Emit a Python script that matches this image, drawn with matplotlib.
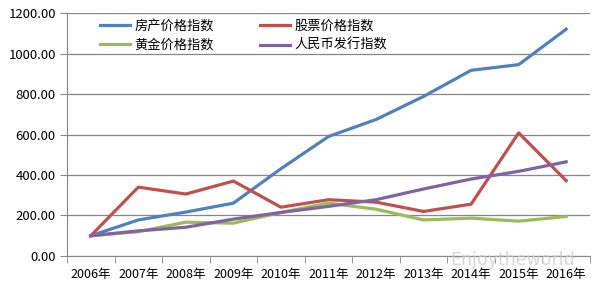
import matplotlib
matplotlib.use("Agg")
import matplotlib.pyplot as plt
from matplotlib.ticker import FixedLocator, FormatStrFormatter

plt.rcParams['font.family'] = ['Noto Sans CJK SC', 'DejaVu Sans']

years = ['2006年', '2007年', '2008年', '2009年', '2010年', '2011年',
         '2012年', '2013年', '2014年', '2015年', '2016年']
house = [100, 178, 217, 261, 431, 590, 674, 788, 917, 945, 1120]
stock = [100, 340, 306, 370, 241, 278, 266, 220, 256, 608, 372]
gold = [100, 120, 167, 162, 215, 261, 231, 178, 187, 172, 195]
rmb = [100, 124, 142, 182, 215, 245, 278, 331, 380, 418, 465]

fig = plt.figure(figsize=(5.97, 2.91), dpi=100)
ax = fig.add_axes([0.1122, 0.1203, 0.876, 0.835])

x = list(range(len(years)))
l1, = ax.plot(x, house, color='#4F81BD', lw=2.3, label='房产价格指数')
l2, = ax.plot(x, stock, color='#C0504D', lw=2.3, label='股票价格指数')
l3, = ax.plot(x, gold, color='#9BBB59', lw=2.3, label='黄金价格指数')
l4, = ax.plot(x, rmb, color='#8064A2', lw=2.3, label='人民币发行指数')

ax.set_xlim(-0.5, len(years) - 0.5)
ax.set_ylim(0, 1200)
ax.set_yticks(range(0, 1201, 200))
ax.yaxis.set_major_formatter(FormatStrFormatter('%.2f'))
ax.set_xticks(x)
ax.set_xticklabels(years)
ax.xaxis.set_minor_locator(FixedLocator([i - 0.5 for i in range(len(years) + 1)]))
ax.tick_params(axis='x', which='major', length=0, pad=9, labelsize=9)
ax.tick_params(axis='x', which='minor', length=5, color='#868686', direction='out')
ax.tick_params(axis='y', length=5, color='#868686', labelsize=9.5, pad=3)

ax.grid(axis='y', color='#868686', lw=0.9)
ax.set_axisbelow(True)
for s in ['top', 'right']:
    ax.spines[s].set_visible(False)
for s in ['left', 'bottom']:
    ax.spines[s].set_color('#868686')

ax.legend([l1, l3, l2, l4], [l1.get_label(), l3.get_label(), l2.get_label(), l4.get_label()],
          ncol=2, loc='upper left', bbox_to_anchor=(0.04, 1.02), frameon=False,
          fontsize=9.5, handlelength=2.3, columnspacing=3.5, labelspacing=0.45,
          handletextpad=0.3)

fig.text(0.754, 0.106, 'Enjoytheworld', color='#cccccc', fontsize=12.5,
         family='DejaVu Sans', alpha=0.8, va='center')

fig.savefig('out.png', dpi=100)
